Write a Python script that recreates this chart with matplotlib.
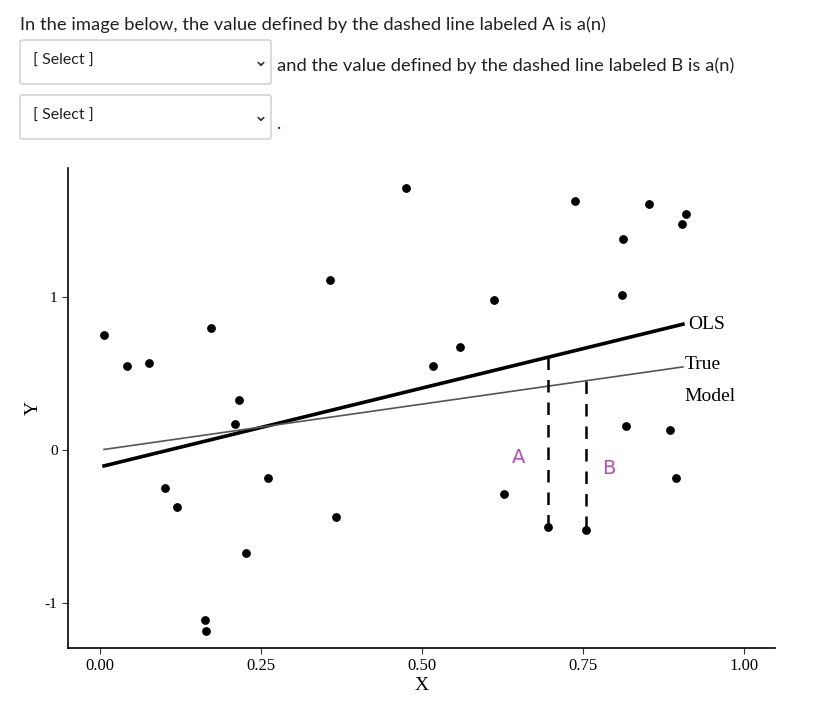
import matplotlib
matplotlib.use("Agg")
import matplotlib.pyplot as plt
from matplotlib.patches import FancyBboxPatch
import numpy as np

px = [0.006,0.042,0.076,0.172,0.216,0.210,0.261,0.101,0.120,0.227,0.163,0.165,0.357,0.366,
      0.475,0.517,0.559,0.612,0.627,0.696,0.755,0.738,0.812,0.811,0.817,0.852,0.885,0.894,0.904,0.910]
py = [0.75,0.55,0.57,0.80,0.33,0.17,-0.18,-0.25,-0.37,-0.67,-1.11,-1.18,1.11,-0.44,
      1.71,0.55,0.67,0.98,-0.29,-0.50,-0.52,1.63,1.38,1.01,0.16,1.61,0.13,-0.18,1.48,1.54]
ols_coef = (-0.11, 1.03)
true_coef = (0.0, 0.60)
line_x = [0.006, 0.905]
a_x, a_bottom = 0.696, -0.50
b_x, b_bottom = 0.755, -0.52
xticks = [0.0, 0.25, 0.5, 0.75, 1.0]
xticklabels = ["0.00", "0.25", "0.50", "0.75", "1.00"]
yticks = [-1, 0, 1]
yticklabels = ["-1", "0", "1"]

W, H = 828, 718
fig = plt.figure(figsize=(W/100, H/100), dpi=100)
serif = ["Liberation Serif", "DejaVu Serif"]
sans = ["Lato", "DejaVu Sans"]

def fx(x): return x / W
def fy(y): return 1 - y / H

# header UI
fig.text(fx(20), fy(25), "In the image below, the value defined by the dashed line labeled A is a(n)",
         family=sans, fontsize=13.2, va="center", color="#222")
for top in (40, 95):
    box = FancyBboxPatch((fx(20), fy(top + 44)), fx(251), 44 / H,
                         boxstyle="round,pad=0,rounding_size=0.003",
                         transform=fig.transFigure, facecolor="white", edgecolor="#cccccc", lw=1)
    fig.add_artist(box)
    fig.text(fx(33), fy(top + 21), "[ Select ]", family=sans, fontsize=11.5, va="center", color="#222")
    fig.text(fx(261), fy(top + 21), "\u2304", family=["DejaVu Sans"], fontsize=12, va="center",
             ha="center", color="#333", fontweight="bold")
fig.text(fx(277), fy(66), "and the value defined by the dashed line labeled B is a(n)",
         family=sans, fontsize=13.2, va="center", color="#222")
fig.text(fx(277), fy(124), ".", family=sans, fontsize=13, va="center", color="#222")

ax = fig.add_axes([fx(68), fy(648), fx(775 - 68), (648 - 168) / H])
ax.set_xlim(-0.05, 1.048)
ax.set_ylim(-1.294, 1.843)
for s in ("top", "right"):
    ax.spines[s].set_visible(False)
for s in ("left", "bottom"):
    ax.spines[s].set_linewidth(1.2)
ax.scatter(px, py, s=28, color="black", zorder=3)
lx = np.array(line_x)
ax.plot(lx, ols_coef[0] + ols_coef[1] * lx, color="black", lw=2.6)
ax.plot(lx, true_coef[0] + true_coef[1] * lx, color="#555555", lw=1.2)
ax.plot([a_x, a_x], [ols_coef[0] + ols_coef[1] * a_x, a_bottom], color="black", lw=1.8, ls=(0, (5, 4)))
ax.plot([b_x, b_x], [true_coef[0] + true_coef[1] * b_x, b_bottom], color="black", lw=1.8, ls=(0, (5, 4)))
ax.text(0.650, -0.05, "A", color="#b050b0", fontsize=14, family=["DejaVu Sans"], ha="center", va="center")
ax.text(0.79, -0.12, "B", color="#b050b0", fontsize=14, family=["DejaVu Sans"], ha="center", va="center")
ax.text(0.914, ols_coef[0] + ols_coef[1] * 0.905, "OLS", family=serif, fontsize=14, va="center")
ax.text(0.908, 0.56, "True", family=serif, fontsize=14, va="center")
ax.text(0.908, 0.35, "Model", family=serif, fontsize=14, va="center")
ax.set_xticks(xticks, xticklabels, family=serif, fontsize=12)
ax.set_yticks(yticks, yticklabels, family=serif, fontsize=11)
ax.tick_params(color="#333", length=4)
ax.set_xlabel("X", family=serif, fontsize=14, labelpad=2)
ax.set_ylabel("Y", family=serif, fontsize=14, labelpad=2)
fig.savefig("out.png", dpi=100)
